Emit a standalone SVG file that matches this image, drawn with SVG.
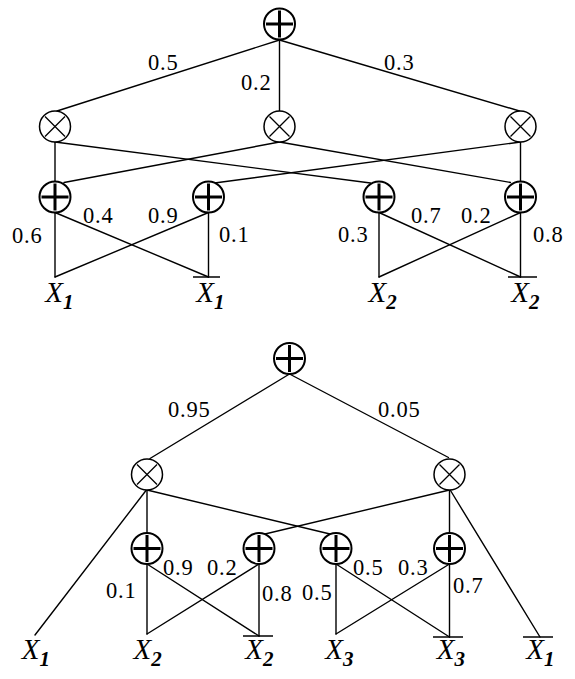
<svg xmlns="http://www.w3.org/2000/svg" width="575" height="679" viewBox="0 0 575 679">
<style>
.edge{stroke:#000;stroke-width:1.4;fill:none;stroke-linecap:round}
.bar{stroke:#000;stroke-width:1.5}
.w{font-size:22.5px;letter-spacing:0.8px;fill:#000}
.lf{font-size:29px;font-style:italic;fill:#000}
.sb{font-size:21px;font-weight:bold}
</style>
<defs>
<g id="plus"><circle r="15.5" fill="#fff" stroke="#000" stroke-width="2"/><path d="M-13.5 0H13.5M0 -13.5V13.5" stroke="#000" stroke-width="3" fill="none"/></g>
<g id="times"><circle r="15.5" fill="#fff" stroke="#000" stroke-width="1.5"/><path d="M-10 -10L10 10M10 -10L-10 10" stroke="#000" stroke-width="1.3" fill="none"/></g>
</defs>

<g id="connectors">
<path class="edge" d="M279.5 40L57 111"/>
<path class="edge" d="M279.5 40V111"/>
<path class="edge" d="M279.5 40L519.5 111"/>
<path class="edge" d="M55 142V181.5"/>
<path class="edge" d="M55 142L370.5 183"/>
<path class="edge" d="M279.5 142L64 182.5"/>
<path class="edge" d="M279.5 142L510.5 182.5"/>
<path class="edge" d="M520.5 142L214.5 183"/>
<path class="edge" d="M520.5 142V181.5"/>
<path class="edge" d="M55 212.5V277"/>
<path class="edge" d="M55 212.5L208.5 277"/>
<path class="edge" d="M208.5 212.5L55 277"/>
<path class="edge" d="M208.5 212.5V277"/>
<path class="edge" d="M379 212.5V277"/>
<path class="edge" d="M379 212.5L520.5 277"/>
<path class="edge" d="M520.5 212.5L379 277"/>
<path class="edge" d="M520.5 212.5V277"/>
<path class="edge" d="M289.5 374L150 458.5"/>
<path class="edge" d="M289.5 374L448.5 457.5"/>
<path class="edge" d="M146 490.5L35 635"/>
<path class="edge" d="M147 490V533"/>
<path class="edge" d="M147 490L330 534"/>
<path class="edge" d="M449.5 490L265 534"/>
<path class="edge" d="M449.5 490V533"/>
<path class="edge" d="M450.5 490.5L540 637"/>
<path class="edge" d="M147 564V634"/>
<path class="edge" d="M147 564L259 636"/>
<path class="edge" d="M259 564L147 634"/>
<path class="edge" d="M259 564V636"/>
<path class="edge" d="M336 564V634"/>
<path class="edge" d="M336 564L449.5 637"/>
<path class="edge" d="M449.5 564L336 634"/>
<path class="edge" d="M449.5 564V637"/>
</g>

<g id="s0"><use href="#plus" x="279.5" y="24"/></g>
<g id="p1"><use href="#times" x="55" y="126.5"/></g>
<g id="p2"><use href="#times" x="279.5" y="126.5"/></g>
<g id="p3"><use href="#times" x="520.5" y="126.5"/></g>
<g id="s1"><use href="#plus" x="55" y="197"/></g>
<g id="s2"><use href="#plus" x="208.5" y="197"/></g>
<g id="s3"><use href="#plus" x="379" y="197"/></g>
<g id="s4"><use href="#plus" x="520.5" y="197"/></g>

<g id="labels" font-family="Liberation Serif, Times New Roman, Times, Tinos, DejaVu Serif, Noto Serif, serif">
<g id="top-leaf-x1"><text class="lf" x="45.2" y="301.5">X<tspan class="sb" dy="7.5">1</tspan></text></g>
<g id="top-leaf-nx1"><line class="bar" x1="193" y1="277" x2="220" y2="277"/><text class="lf" x="196.2" y="301.5">X<tspan class="sb" dy="7.5">1</tspan></text></g>
<g id="top-leaf-x2"><text class="lf" x="368.5" y="301.5">X<tspan class="sb" dy="7.5">2</tspan></text></g>
<g id="top-leaf-nx2"><line class="bar" x1="508" y1="277" x2="537" y2="277"/><text class="lf" x="511.2" y="301.5">X<tspan class="sb" dy="7.5">2</tspan></text></g>

<g id="top-weights">
<text class="w" x="148" y="70">0.5</text>
<text class="w" x="241" y="90">0.2</text>
<text class="w" x="384" y="70">0.3</text>
<text class="w" x="12" y="243">0.6</text>
<text class="w" x="83" y="223">0.4</text>
<text class="w" x="148" y="223">0.9</text>
<text class="w" x="219" y="242">0.1</text>
<text class="w" x="338" y="242">0.3</text>
<text class="w" x="411" y="223">0.7</text>
<text class="w" x="461" y="223">0.2</text>
<text class="w" x="533" y="242">0.8</text>
</g>

<g id="bot-leaf-x1"><text class="lf" x="21.8" y="658.5">X<tspan class="sb" dy="7.5">1</tspan></text></g>
<g id="bot-leaf-x2"><text class="lf" x="133.5" y="658.5">X<tspan class="sb" dy="7.5">2</tspan></text></g>
<g id="bot-leaf-nx2"><line class="bar" x1="243" y1="636" x2="273" y2="636"/><text class="lf" x="245.2" y="658.5">X<tspan class="sb" dy="7.5">2</tspan></text></g>
<g id="bot-leaf-x3"><text class="lf" x="325.2" y="658.5">X<tspan class="sb" dy="7.5">3</tspan></text></g>
<g id="bot-leaf-nx3"><line class="bar" x1="433" y1="637" x2="463" y2="637"/><text class="lf" x="436.8" y="658.5">X<tspan class="sb" dy="7.5">3</tspan></text></g>
<g id="bot-leaf-nx1"><line class="bar" x1="523" y1="637" x2="553" y2="637"/><text class="lf" x="526.2" y="658.5">X<tspan class="sb" dy="7.5">1</tspan></text></g>

<g id="bottom-weights">
<text class="w" x="168" y="417">0.95</text>
<text class="w" x="378" y="417">0.05</text>
<text class="w" x="106" y="598">0.1</text>
<text class="w" x="163" y="575">0.9</text>
<text class="w" x="207" y="575">0.2</text>
<text class="w" x="262" y="601">0.8</text>
<text class="w" x="302" y="600">0.5</text>
<text class="w" x="353" y="575">0.5</text>
<text class="w" x="398" y="575">0.3</text>
<text class="w" x="453" y="593">0.7</text>
</g>
</g>

<g id="t0"><use href="#plus" x="289.5" y="358.5"/></g>
<g id="q1"><use href="#times" x="147" y="474.5"/></g>
<g id="q2"><use href="#times" x="449.5" y="474.5"/></g>
<g id="u1"><use href="#plus" x="147" y="548.5"/></g>
<g id="u2"><use href="#plus" x="259" y="548.5"/></g>
<g id="u3"><use href="#plus" x="336" y="548.5"/></g>
<g id="u4"><use href="#plus" x="449.5" y="548.5"/></g>
</svg>
